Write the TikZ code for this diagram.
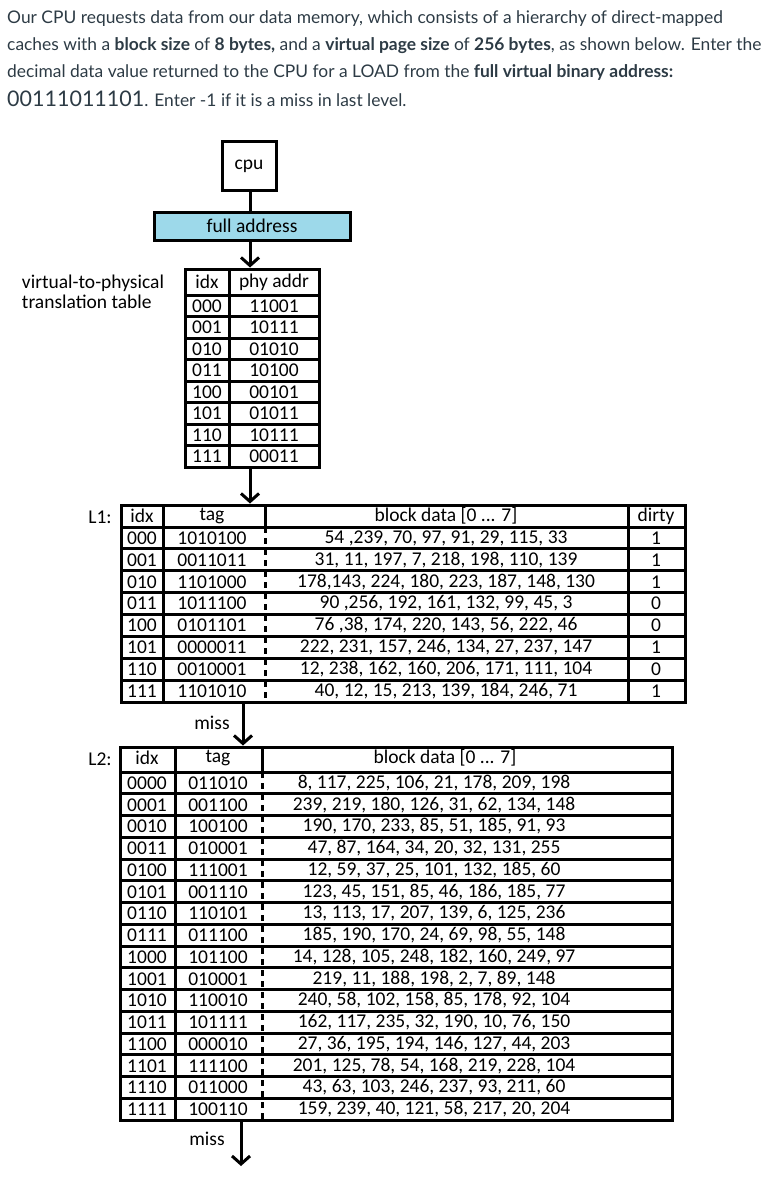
\documentclass[tikz,border=0pt]{standalone}
\usepackage{fontspec}
\setmainfont{Carlito}
\newfontfamily\lato{Lato}
\usetikzlibrary{arrows.meta,calc}
\definecolor{txt}{HTML}{2D3B45}
\definecolor{addrblue}{HTML}{9DD9EA}
\begin{document}
\begin{tikzpicture}[x=1pt,y=-1pt,
  box/.style={draw,line width=3pt,inner sep=0pt},
  grid/.style={line width=3pt},
  dsh/.style={line width=3pt,dash pattern=on 6pt off 5pt},
  arr/.style={line width=3pt,-{Straight Barb[length=8pt,width=18pt,line width=3pt]}},
  cell/.style={inner sep=0pt,font=\fontsize{19.5}{20}\selectfont},
  hd/.style={anchor=base west,inner sep=0pt,text=txt,font=\lato\fontsize{17.4}{20}\selectfont}]
\useasboundingbox (0,0) rectangle (773,1177);
% header text
\node[hd] (h1) at (7,24) {Our CPU requests data from our data memory, which consists of a hierarchy of direct-mapped};
\node[hd] (h2) at (7,51) {caches with a \textbf{block size} of \textbf{8 bytes,} and a \textbf{virtual page size} of \textbf{256 bytes}, as shown below. Enter the};
\node[hd] (h3) at (7,78) {decimal data value returned to the CPU for a LOAD from the \textbf{full virtual binary address:}};
\node[hd] (h4) at (7,107) {{\fontsize{21.5}{22}\selectfont 00111011101}. Enter -1 if it is a miss in last level.};

% cpu and address
\node[box,minimum width=54,minimum height=49,font=\fontsize{19.5}{20}\selectfont] (cpu) at (249,166.5) {cpu};
\node[box,fill=addrblue,minimum width=196,minimum height=28,font=\fontsize{19.5}{20}\selectfont] (addr) at (252,226) {full address};
\coordinate (c1) at (250,191);
\draw[grid] (cpu.south -| c1) -- (addr.north -| c1);

% translation table
\node[box,minimum width=134,minimum height=198] (tt) at (252,368) {};
\draw[arr] (addr.south -| c1) -- (tt.north -| c1);
\node[cell,align=left] (ttl) at (93,292) {virtual-to-physical\\translation table};
\draw[grid] (229,269) -- (229,467);
\node[cell] (tth1) at (207,282) {idx};
\node[cell] (tth2) at (274,282) {phy addr};
\foreach \i/\a/\b in {0/000/11001,1/001/10111,2/010/01010,3/011/10100,4/100/00101,5/101/01011,6/110/10111,7/111/00011}{
  \draw[grid] (185,295+21.5*\i) -- (319,295+21.5*\i);
  \node[cell] (tta\i) at (207,306+21.5*\i) {\a};
  \node[cell] (ttb\i) at (274,306+21.5*\i) {\b};
}

% L1
\node[box,minimum width=564,minimum height=197] (l1) at (403,603.5) {};
\draw[arr] (tt.south -| c1) -- (l1.north -| c1);
\node[cell] (l1lab) at (100,517) {L1:};
\draw[grid] (163,505) -- (163,702);
\draw[grid] (265,505) -- (265,527);
\draw[dsh] (265,527) -- (265,702);
\draw[grid] (628,505) -- (628,702);
\node[cell] (l1h1) at (142,516) {idx};
\node[cell] (l1h2) at (212,516) {tag};
\node[cell] (l1h3) at (446,516) {block data [0 ... 7]};
\node[cell] (l1h4) at (656,516) {dirty};
\foreach \i/\a/\t/\d/\r in {0/000/1010100/{54 ,239, 70, 97, 91, 29, 115, 33}/1,
  1/001/0011011/{31, 11, 197, 7, 218, 198, 110, 139}/1,
  2/010/1101000/{178,143, 224, 180, 223, 187, 148, 130}/1,
  3/011/1011100/{90 ,256, 192, 161, 132, 99, 45, 3}/0,
  4/100/0101101/{76 ,38, 174, 220, 143, 56, 222, 46}/0,
  5/101/0000011/{222, 231, 157, 246, 134, 27, 237, 147}/1,
  6/110/0010001/{12, 238, 162, 160, 206, 171, 111, 104}/0,
  7/111/1101010/{40, 12, 15, 213, 139, 184, 246, 71}/1}{
  \draw[grid] (121,527+21.875*\i) -- (685,527+21.875*\i);
  \node[cell] (l1a\i) at (142,538+21.875*\i) {\a};
  \node[cell] (l1t\i) at (212,538+21.875*\i) {\t};
  \node[cell] (l1d\i) at (446,538+21.875*\i) {\d};
  \node[cell] (l1r\i) at (656,538+21.875*\i) {\r};
}

% L2
\node[box,minimum width=552,minimum height=373] (l2) at (396,933.5) {};
\coordinate (c2) at (243,702);
\draw[arr] (l1.south -| c2) -- (l2.north -| c2);
\node[cell] (m1) at (212,723) {miss};
\node[cell] (l2lab) at (100,759) {L2:};
\draw[grid] (175,747) -- (175,1120);
\draw[grid] (262,747) -- (262,772);
\draw[dsh] (262,772) -- (262,1120);
\node[cell] (l2h1) at (147,758) {idx};
\node[cell] (l2h2) at (218,758) {tag};
\node[cell] (l2h3) at (445,758) {block data [0 ... 7]};
\foreach \i/\a/\t/\d in {0/0000/011010/{8, 117, 225, 106, 21, 178, 209, 198},
  1/0001/001100/{239, 219, 180, 126, 31, 62, 134, 148},
  2/0010/100100/{190, 170, 233, 85, 51, 185, 91, 93},
  3/0011/010001/{47, 87, 164, 34, 20, 32, 131, 255},
  4/0100/111001/{12, 59, 37, 25, 101, 132, 185, 60},
  5/0101/001110/{123, 45, 151, 85, 46, 186, 185, 77},
  6/0110/110101/{13, 113, 17, 207, 139, 6, 125, 236},
  7/0111/011100/{185, 190, 170, 24, 69, 98, 55, 148},
  8/1000/101100/{14, 128, 105, 248, 182, 160, 249, 97},
  9/1001/010001/{219, 11, 188, 198, 2, 7, 89, 148},
  10/1010/110010/{240, 58, 102, 158, 85, 178, 92, 104},
  11/1011/101111/{162, 117, 235, 32, 190, 10, 76, 150},
  12/1100/000010/{27, 36, 195, 194, 146, 127, 44, 203},
  13/1101/111100/{201, 125, 78, 54, 168, 219, 228, 104},
  14/1110/011000/{43, 63, 103, 246, 237, 93, 211, 60},
  15/1111/100110/{159, 239, 40, 121, 58, 217, 20, 204}}{
  \draw[grid] (120,772+21.75*\i) -- (672,772+21.75*\i);
  \node[cell] (l2a\i) at (147,783+21.75*\i) {\a};
  \node[cell] (l2t\i) at (218,783+21.75*\i) {\t};
  \node[cell] (l2d\i) at (434,783+21.75*\i) {\d};
}
\coordinate (c3) at (241,1120);
\coordinate (end) at (241,1166);
\draw[arr] (l2.south -| c3) -- (end);
\node[cell] (m2) at (207,1139) {miss};
\end{tikzpicture}
\end{document}
